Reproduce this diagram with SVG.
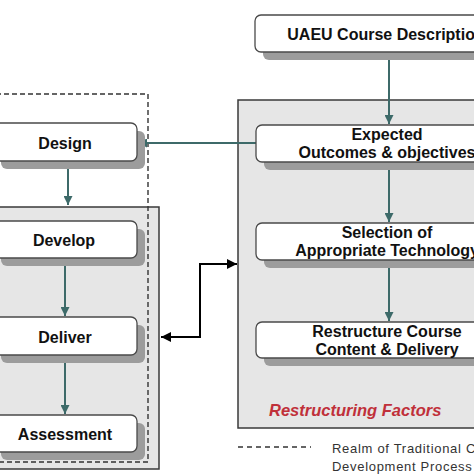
<svg xmlns="http://www.w3.org/2000/svg" width="474" height="474" viewBox="0 0 474 474">
<defs>
<style>
.box{fill:#ffffff;stroke:#4a4a4a;stroke-width:1.3}
.sh{fill:#9c9c9c}
.area{fill:#e6e6e6;stroke:#3a3a3a;stroke-width:1.5}
.t{font-family:"Liberation Sans",Arial,sans-serif;font-weight:bold;font-size:16px;fill:#111;text-anchor:middle}
.teal{stroke:#3d6a69;stroke-width:2;fill:none}
.blk{stroke:#000;stroke-width:2;fill:none}
.dash{fill:none;stroke:#333;stroke-width:1.4;stroke-dasharray:5 3}
.lg{font-family:"Liberation Sans",Arial,sans-serif;font-size:13px;fill:#333;letter-spacing:0.7px}
</style>
<marker id="ta" viewBox="0 0 10 10" refX="10" refY="5" markerWidth="9" markerHeight="9" markerUnits="userSpaceOnUse" orient="auto"><path d="M0,0 L10,5 L0,10 Z" fill="#3d6a69"/></marker>
<marker id="ba" viewBox="0 0 10 10" refX="10" refY="5" markerWidth="10" markerHeight="10" markerUnits="userSpaceOnUse" orient="auto-start-reverse"><path d="M0,0 L10,5 L0,10 Z" fill="#000"/></marker>
</defs>
<rect width="474" height="474" fill="#fff"/>
<g id="areas">
<rect class="area" x="-20" y="207" width="179" height="262"/>
<rect class="area" x="238" y="100" width="260" height="328"/>
<rect id="realm" class="dash" x="-20" y="94" width="168" height="368"/>
</g>
<g id="connectors">
<line class="teal" x1="68" y1="161" x2="68" y2="205" marker-end="url(#ta)"/>
<line class="teal" x1="65" y1="258" x2="65" y2="316" marker-end="url(#ta)"/>
<line class="teal" x1="65" y1="355" x2="65" y2="414" marker-end="url(#ta)"/>
<line class="teal" x1="256" y1="143" x2="138" y2="143" marker-end="url(#ta)"/>
<line class="teal" x1="389" y1="52" x2="389" y2="124" marker-end="url(#ta)"/>
<line class="teal" x1="389" y1="162" x2="389" y2="222" marker-end="url(#ta)"/>
<line class="teal" x1="389" y1="260" x2="389" y2="321" marker-end="url(#ta)"/>
<path class="blk" d="M161,337 H200 V264 H237" marker-start="url(#ba)" marker-end="url(#ba)"/>
</g>
<g id="design"><rect class="sh" x="1" y="131" width="144" height="38" rx="6"/><rect class="box" x="-7" y="123" width="144" height="38" rx="6"/><text class="t" x="65" y="149">Design</text></g>
<g id="develop"><rect class="sh" x="1" y="229" width="144" height="37" rx="6"/><rect class="box" x="-7" y="221" width="144" height="37" rx="6"/><text class="t" x="64" y="246">Develop</text></g>
<g id="deliver"><rect class="sh" x="1" y="325" width="144" height="38" rx="6"/><rect class="box" x="-7" y="317" width="144" height="38" rx="6"/><text class="t" x="65" y="343">Deliver</text></g>
<g id="assessment"><rect class="sh" x="1" y="423" width="144" height="37" rx="6"/><rect class="box" x="-7" y="415" width="144" height="37" rx="6"/><text class="t" x="65" y="440">Assessment</text></g>
<g id="uaeu"><rect class="sh" x="263" y="23" width="262" height="37" rx="6"/><rect class="box" x="255" y="15" width="262" height="37" rx="6"/><text class="t" x="386" y="40">UAEU Course Description</text></g>
<g id="expected"><rect class="sh" x="264" y="133" width="262" height="37" rx="6"/><rect class="box" x="256" y="125" width="262" height="37" rx="6"/><text class="t" x="387" y="140">Expected</text><text class="t" x="387" y="158">Outcomes &amp; objectives</text></g>
<g id="selection"><rect class="sh" x="264" y="231" width="262" height="37" rx="6"/><rect class="box" x="256" y="223" width="262" height="37" rx="6"/><text class="t" x="387" y="238">Selection of</text><text class="t" x="387" y="256">Appropriate Technology</text></g>
<g id="restructure"><rect class="sh" x="264" y="330" width="262" height="36" rx="6"/><rect class="box" x="256" y="322" width="262" height="36" rx="6"/><text class="t" x="387" y="337">Restructure Course</text><text class="t" x="387" y="355">Content &amp; Delivery</text></g>
<text x="269" y="416" font-family="Liberation Sans,Arial,sans-serif" font-weight="bold" font-style="italic" font-size="16.5" fill="#c0303a">Restructuring Factors</text>
<g id="legend">
<line x1="238" y1="447" x2="311" y2="447" stroke="#333" stroke-width="1.5" stroke-dasharray="5 4"/>
<text class="lg" x="332" y="453">Realm of Traditional Course</text>
<text class="lg" x="332" y="471">Development Process</text>
</g>
</svg>
